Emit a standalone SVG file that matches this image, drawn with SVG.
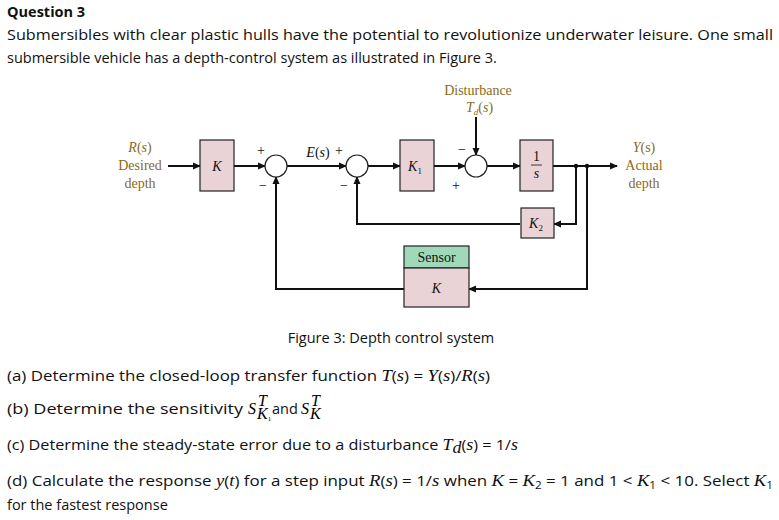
<svg xmlns="http://www.w3.org/2000/svg" width="779" height="520" viewBox="0 0 779 520">
<style>
.t{font-family:"Open Sans","Liberation Sans",sans-serif;font-size:14.5px;fill:#111}
.d{font-family:"Liberation Serif",serif;font-size:14px;fill:#8a6a1a}
.b{font-family:"Liberation Serif",serif;font-size:14px;fill:#111}
.m{font-family:"Liberation Serif",serif;font-style:italic;font-size:16px}
.blk{fill:#ead3d6;stroke:#222;stroke-width:1.2}
.sum{fill:#fff;stroke:#222;stroke-width:1.2}
.ln{fill:none;stroke:#111;stroke-width:2}
.i{font-style:italic}
</style>
<defs><marker id="a" markerWidth="8" markerHeight="8" refX="7" refY="4" orient="auto" markerUnits="userSpaceOnUse"><path d="M0,0.5 L8,4 L0,7.5z" fill="#111"/></marker></defs>
<rect width="779" height="520" fill="#fff"/>
<text class="t" x="7" y="17" font-weight="bold">Question 3</text>
<text class="t" x="7" y="40" textLength="766" lengthAdjust="spacingAndGlyphs">Submersibles with clear plastic hulls have the potential to revolutionize underwater leisure. One small</text>
<text class="t" x="7" y="63">submersible vehicle has a depth-control system as illustrated in Figure 3.</text>
<g id="connectors">
<path class="ln" d="M168,166 H200" marker-end="url(#a)"/>
<path class="ln" d="M234,166 H265" marker-end="url(#a)"/>
<path class="ln" d="M287,166 H346" marker-end="url(#a)"/>
<path class="ln" d="M368,166 H400" marker-end="url(#a)"/>
<path class="ln" d="M434,166 H465" marker-end="url(#a)"/>
<path class="ln" d="M476,117 V155" marker-end="url(#a)"/>
<path class="ln" d="M487,166 H520" marker-end="url(#a)"/>
<path class="ln" d="M553,166 H617" marker-end="url(#a)"/>
<path class="ln" d="M576,166 V224 H554" marker-end="url(#a)"/>
<path class="ln" d="M520,224 H357 V177" marker-end="url(#a)"/>
<path class="ln" d="M587,166 V289 H469" marker-end="url(#a)"/>
<path class="ln" d="M404,289 H276 V177" marker-end="url(#a)"/>
<circle cx="576" cy="166" r="2.2" fill="#111"/><circle cx="587" cy="166" r="2.2" fill="#111"/>
</g>
<g id="input"><text class="d" x="140" y="152" text-anchor="middle"><tspan class="i">R</tspan>(<tspan class="i">s</tspan>)</text><text class="d" x="140" y="170" text-anchor="middle">Desired</text><text class="d" x="140" y="188" text-anchor="middle">depth</text></g>
<g id="K"><rect class="blk" x="200" y="140" width="34" height="51"/><text class="b i" x="217" y="171" text-anchor="middle">K</text></g>
<g id="sum1"><circle class="sum" cx="276" cy="166" r="11"/><text class="b" x="257" y="155">+</text><text class="b" x="259" y="190">−</text></g>
<text class="b" x="318" y="157" text-anchor="middle"><tspan class="i">E</tspan>(<tspan class="i">s</tspan>)</text>
<g id="sum2"><circle class="sum" cx="357" cy="166" r="11"/><text class="b" x="335" y="155">+</text><text class="b" x="340" y="190">−</text></g>
<g id="K1"><rect class="blk" x="400" y="140" width="34" height="51"/><text class="b i" x="415" y="171" text-anchor="middle">K<tspan font-style="normal" font-size="9" dy="3">1</tspan></text></g>
<g id="dist"><text class="d" x="478" y="95" text-anchor="middle">Disturbance</text><text class="d" x="478" y="112"><tspan x="466" class="i">T</tspan><tspan class="i" font-size="9" dy="3">d</tspan><tspan dy="-3">(</tspan><tspan class="i">s</tspan>)</text></g>
<g id="sum3"><circle class="sum" cx="476" cy="166" r="11"/><text class="b" x="458" y="154">−</text><text class="b" x="452" y="190">+</text></g>
<g id="int"><rect class="blk" x="520" y="140" width="33" height="51"/><text class="b" x="536.5" y="161" text-anchor="middle" font-size="11">1</text><line x1="531" y1="165" x2="542" y2="165" stroke="#111" stroke-width="0.8"/><text class="b i" x="536.5" y="178" text-anchor="middle" font-size="11">s</text></g>
<g id="output"><text class="d" x="644" y="152" text-anchor="middle"><tspan class="i">Y</tspan>(s)</text><text class="d" x="644" y="170" text-anchor="middle">Actual</text><text class="d" x="644" y="188" text-anchor="middle">depth</text></g>
<g id="K2"><rect class="blk" x="521" y="208" width="33" height="30"/><text class="b i" x="536" y="228" text-anchor="middle">K<tspan font-style="normal" font-size="9" dy="3">2</tspan></text></g>
<g id="sensor"><rect x="404" y="246" width="65" height="22" fill="#9fd9b9" stroke="#222" stroke-width="1.2"/><rect class="blk" x="404" y="268" width="65" height="39"/><text class="b" x="436.5" y="262" text-anchor="middle">Sensor</text><text class="b i" x="436.5" y="293" text-anchor="middle">K</text></g>
<text class="t" x="391" y="343" text-anchor="middle" font-size="15">Figure 3: Depth control system</text>
<text class="t" x="7" y="381" textLength="483" lengthAdjust="spacingAndGlyphs">(a) Determine the closed-loop transfer function <tspan class="m">T</tspan>(<tspan class="m">s</tspan>) = <tspan class="m">Y</tspan>(<tspan class="m">s</tspan>)/<tspan class="m">R</tspan>(<tspan class="m">s</tspan>)</text>
<text class="t" x="7" y="414" textLength="236" lengthAdjust="spacingAndGlyphs">(b) Determine the sensitivity</text>
<text class="m" x="248" y="414">S</text><text class="m" x="258" y="406" font-size="10">T</text><text class="m" x="257" y="419" font-size="10">K<tspan font-style="normal" font-size="7" dy="2">1</tspan></text>
<text class="t" x="272" y="414">and</text>
<text class="m" x="301" y="414">S</text><text class="m" x="311" y="406" font-size="10">T</text><text class="m" x="310" y="419" font-size="10">K</text>
<text class="t" x="7" y="450" textLength="511" lengthAdjust="spacingAndGlyphs">(c) Determine the steady-state error due to a disturbance <tspan class="m">T</tspan><tspan font-size="11" class="m" dy="3">d</tspan><tspan dy="-3">(</tspan><tspan class="m">s</tspan>) = 1/<tspan class="m">s</tspan></text>
<text class="t" x="7" y="486" textLength="766" lengthAdjust="spacingAndGlyphs">(d) Calculate the response <tspan class="m">y</tspan>(<tspan class="m">t</tspan>) for a step input <tspan class="m">R</tspan>(<tspan class="m">s</tspan>) = 1/<tspan class="m">s</tspan> when <tspan class="m">K</tspan> = <tspan class="m">K</tspan><tspan font-size="10" dy="3">2</tspan><tspan dy="-3"> = 1 and 1 &lt; </tspan><tspan class="m">K</tspan><tspan font-size="10" dy="3">1</tspan><tspan dy="-3"> &lt; 10. Select </tspan><tspan class="m">K</tspan><tspan font-size="10" dy="3">1</tspan></text>
<text class="t" x="7" y="510">for the fastest response</text>
</svg>
